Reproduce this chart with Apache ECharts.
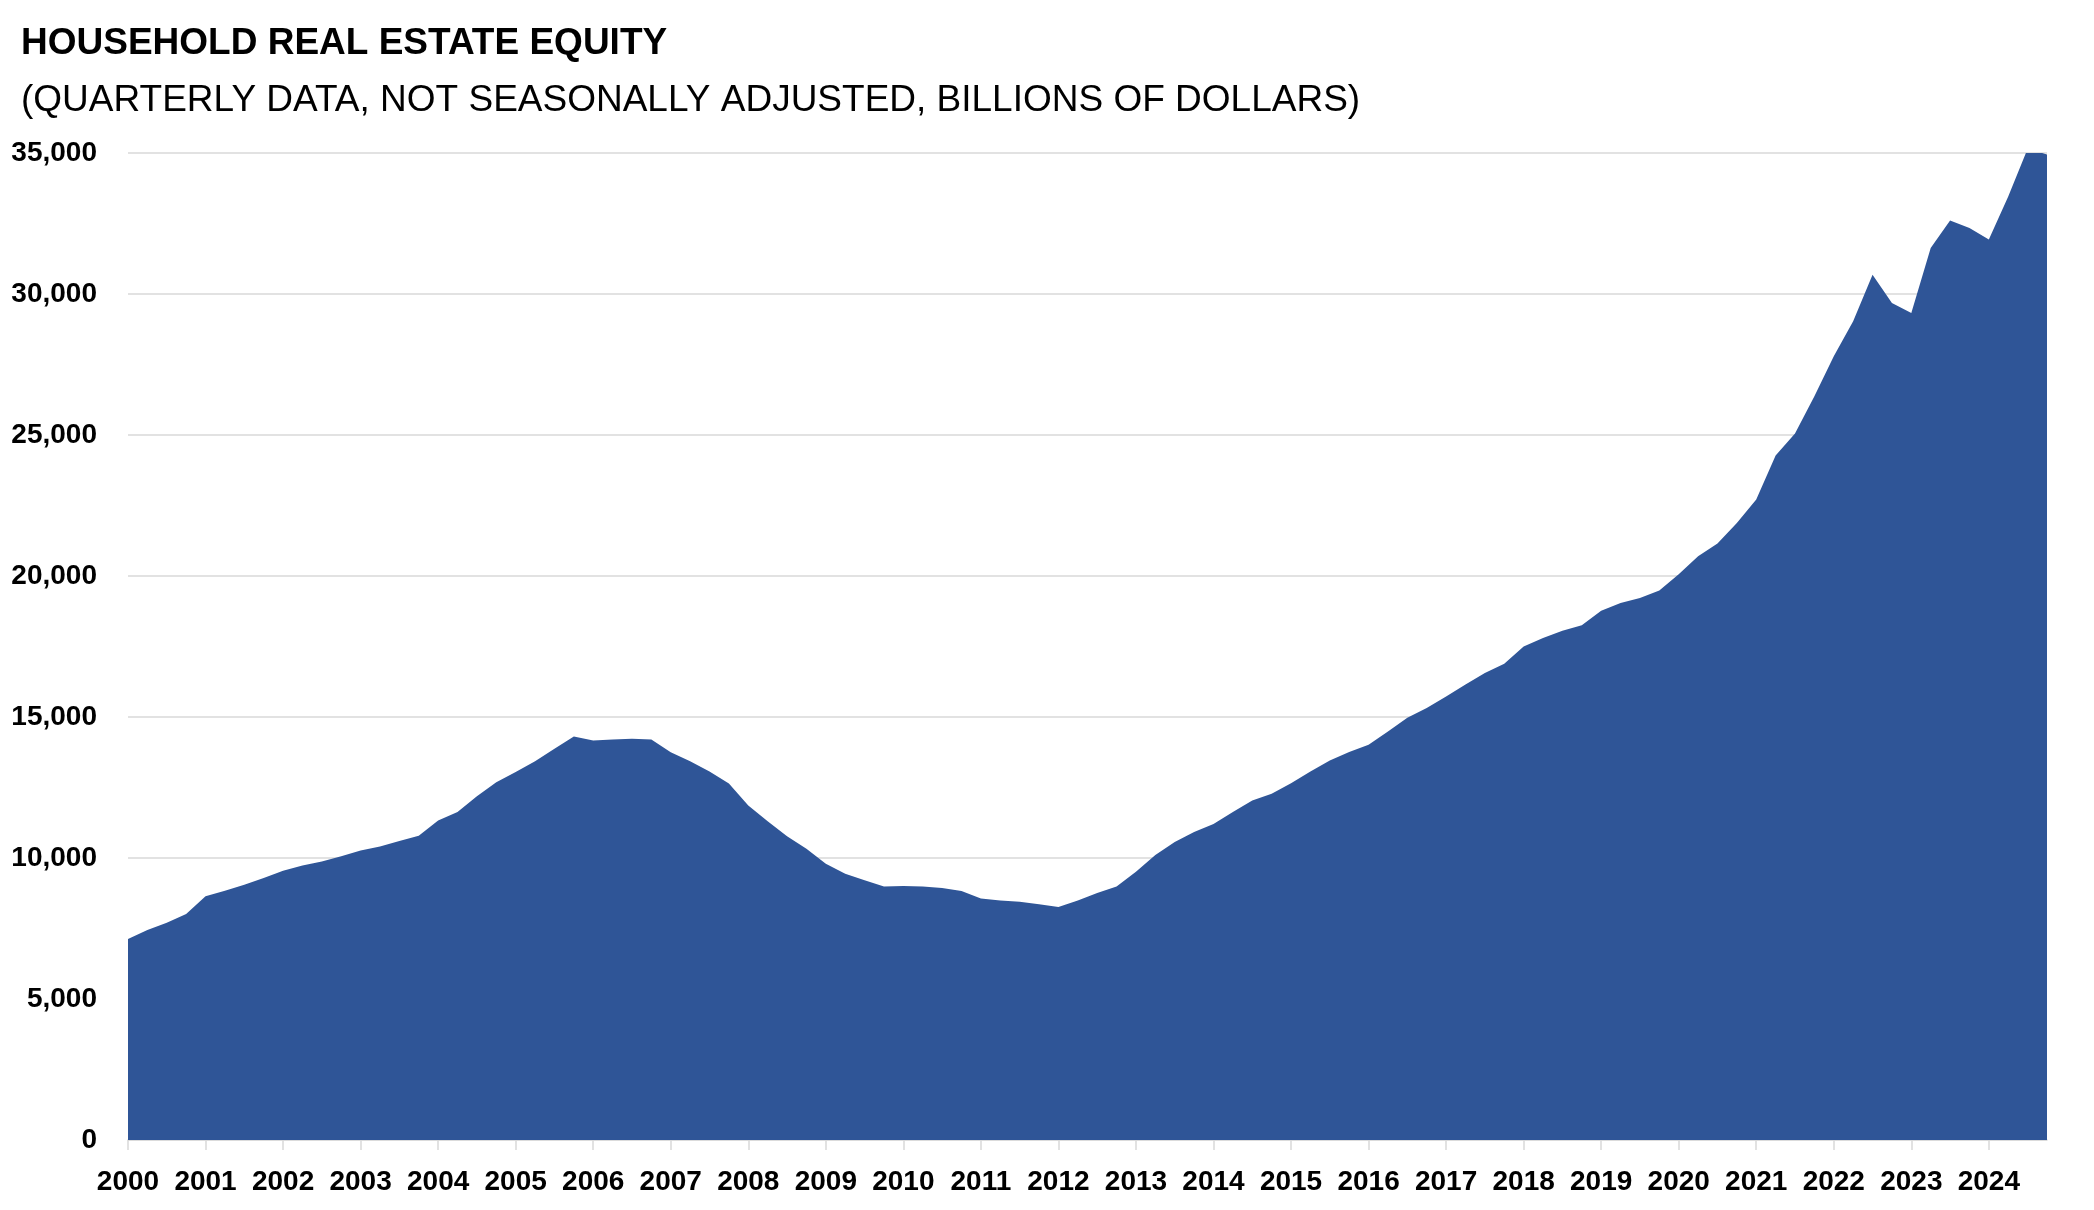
<!DOCTYPE html>
<html>
<head>
<meta charset="utf-8">
<title>Household real estate equity</title>
<script src="https://cdn.jsdelivr.net/npm/echarts@6/dist/echarts.min.js"></script>
<style>
    html, body { margin: 0; padding: 0; background: #fff; }
    #main { width: 2094px; height: 1210px; }
</style>
</head>
<body>
<div id="main"></div>
<script>
    // years on the x axis (each year has 4 quarters)
    var years = ['2000', '2001', '2002', '2003', '2004', '2005', '2006', '2007', '2008', '2009', '2010', '2011', '2012',
        '2013', '2014', '2015', '2016', '2017', '2018', '2019', '2020', '2021', '2022', '2023', '2024'];
    var quarters = ['Q1', 'Q2', 'Q3', 'Q4'];

    // y axis ticks
    var yTicks = [0, 5000, 10000, 15000, 20000, 25000, 30000, 35000];

    // household real estate equity, billions of dollars, quarterly 2000Q1 - 2024Q4
    var equity = [
        7130, 7450, 7700, 8010,
        8640, 8840, 9050, 9290,
        9550, 9730, 9880, 10060,
        10270, 10410, 10600, 10790,
        11330, 11630, 12190, 12690,
        13050, 13430, 13870, 14310,
        14170, 14200, 14230, 14200,
        13750, 13430, 13070, 12640,
        11860, 11300, 10770, 10330,
        9800, 9440, 9210, 8990,
        9010, 8990, 8940, 8830,
        8560, 8490, 8450, 8360,
        8260, 8490, 8760, 8990,
        9510, 10110, 10570, 10920,
        11210, 11630, 12040, 12280,
        12650, 13070, 13460, 13760,
        14020, 14490, 14970, 15320,
        15730, 16150, 16560, 16890,
        17500, 17800, 18060, 18250,
        18770, 19040, 19220, 19490,
        20060, 20700, 21150, 21880,
        22710, 24270, 25050, 26370,
        27790, 29030, 30680, 29680,
        29330, 31630, 32610, 32340,
        31930, 33460, 35150, 34950
    ];

    // 类目：每个季度一个
    var categories = [];
    years.forEach(function (y) {
        quarters.forEach(function (q) {
            categories.push(y + ' ' + q);
        });
    });

    var myChart = echarts.init(document.getElementById('main'));

    var font = "'Liberation Sans', Arial, sans-serif";

    var option = {
        animation: false,
        backgroundColor: '#ffffff',
        title: [
            {
                text: 'HOUSEHOLD REAL ESTATE EQUITY',
                left: 16,
                top: 20,
                textStyle: { fontFamily: font, fontSize: 37, fontWeight: 'bold', color: '#000' }
            },
            {
                text: '(QUARTERLY DATA, NOT SEASONALLY ADJUSTED, BILLIONS OF DOLLARS)',
                left: 16,
                top: 77,
                textStyle: { fontFamily: font, fontSize: 37, fontWeight: 'normal', color: '#000' }
            }
        ],
        grid: {
            left: 128,
            right: 47,
            top: 153,
            bottom: 70,
            containLabel: false,
            outerBoundsMode: 'none'
        },
        xAxis: {
            type: 'category',
            data: categories,
            boundaryGap: false,
            axisLine: { show: true, lineStyle: { color: '#d9d9d9', width: 1.5 } },
            axisTick: { show: true, interval: 3, length: 10, lineStyle: { color: '#d9d9d9', width: 1.5 } },
            axisLabel: {
                interval: 3,
                margin: 28,
                fontFamily: font,
                fontSize: 28,
                fontWeight: 'bold',
                color: '#000',
                formatter: function (v) { return v.slice(0, 4); }
            }
        },
        yAxis: {
            type: 'value',
            min: yTicks[0],
            max: yTicks[yTicks.length - 1],
            interval: yTicks[1] - yTicks[0],
            axisLine: { show: false },
            axisTick: { show: false },
            splitLine: { show: true, lineStyle: { color: '#d9d9d9', width: 1.5 } },
            axisLabel: {
                margin: 31,
                fontFamily: font,
                fontSize: 28,
                fontWeight: 'bold',
                color: '#000',
                formatter: function (v) { return echarts.format.addCommas(v); }
            }
        },
        series: [
            {
                name: 'Household real estate equity',
                type: 'line',
                data: equity,
                showSymbol: false,
                symbol: 'none',
                lineStyle: { width: 0 },
                areaStyle: { color: '#2f5597', opacity: 1 },
                clip: true
            }
        ]
    };

    myChart.setOption(option);
</script>
</body>
</html>
